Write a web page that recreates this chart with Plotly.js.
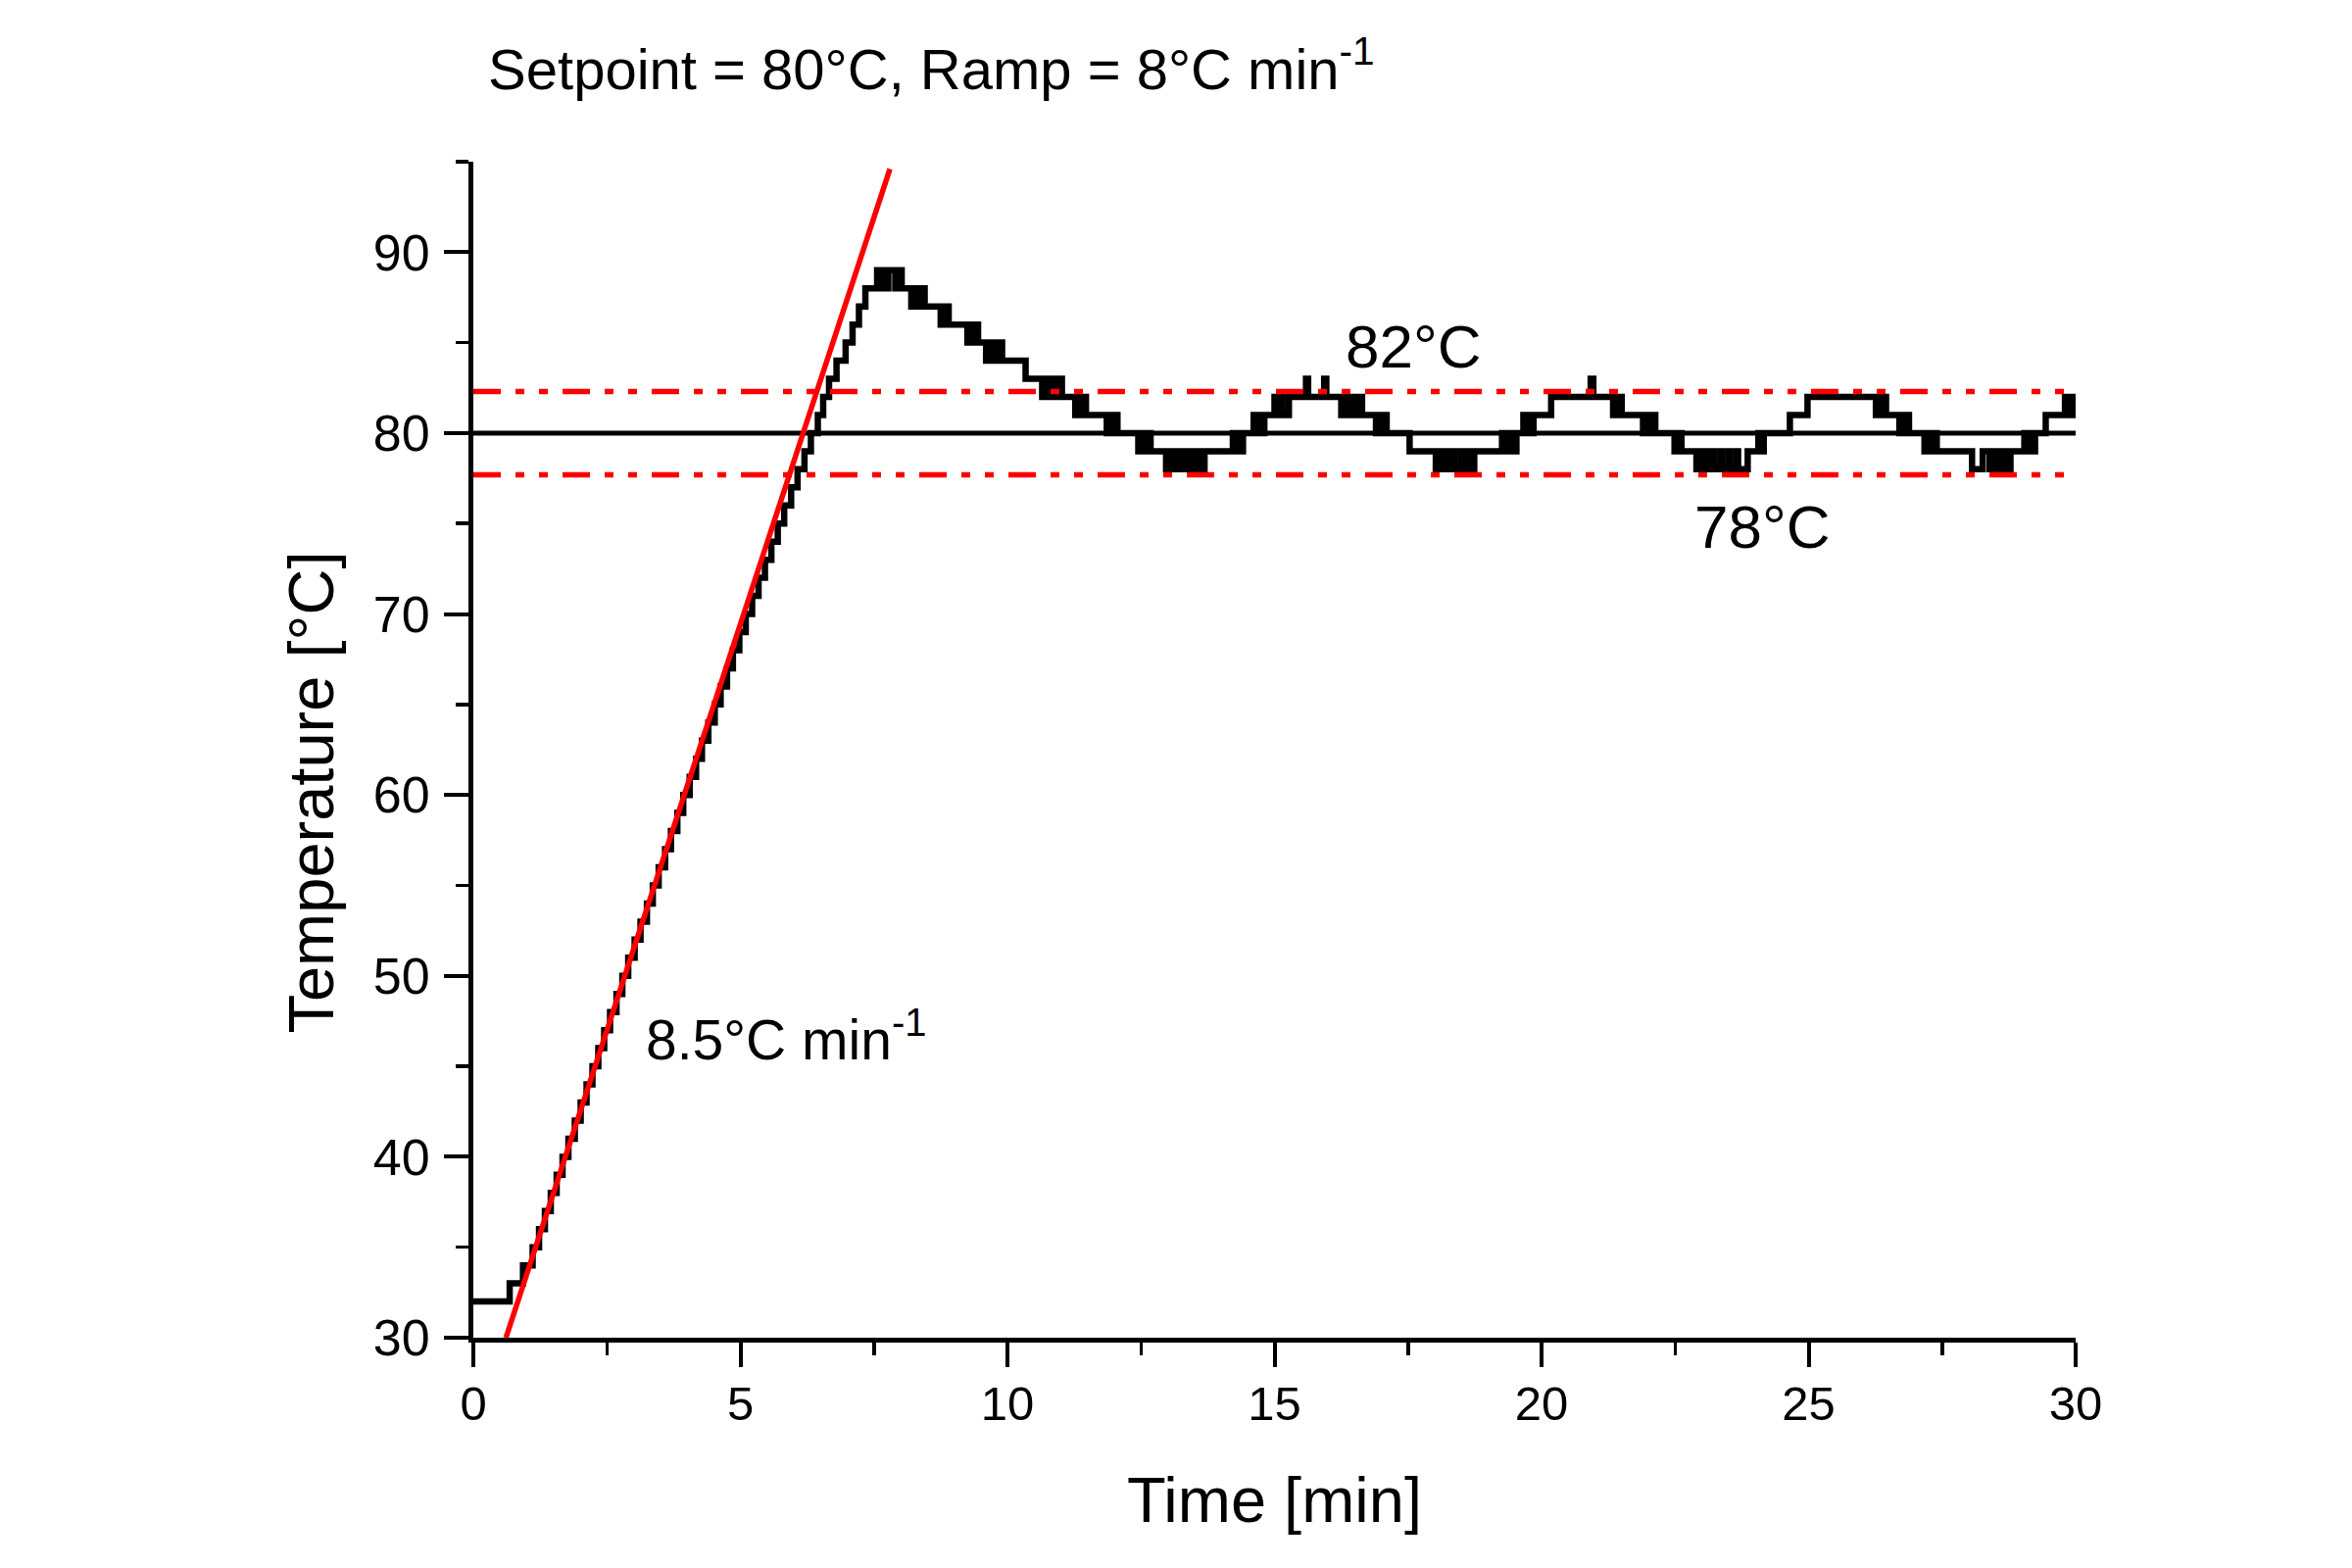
<!DOCTYPE html>
<html>
<head>
<meta charset="utf-8">
<script src="https://cdn.plot.ly/plotly-3.0.1.min.js"></script>
<style>html,body{margin:0;padding:0;background:#fff;}#chart{width:2400px;height:1600px;}</style>
</head>
<body>
<div id="chart"></div>
<script>
// ---- Data ----
// Heat-up ramp (time [min], temperature [°C]); each value holds until the next time
var rampTime = [0, 0.68, 0.93, 1.11, 1.23, 1.34, 1.45, 1.56, 1.67, 1.78,
                1.90, 2.01, 2.12, 2.23, 2.34, 2.45, 2.56, 2.68, 2.79, 2.90,
                3.02, 3.13, 3.25, 3.36, 3.47, 3.59, 3.70, 3.82, 3.93, 4.05,
                4.17, 4.28, 4.40, 4.52, 4.63, 4.75, 4.86, 4.98, 5.10, 5.22,
                5.34, 5.46, 5.58, 5.70, 5.82, 5.95, 6.07, 6.20, 6.32, 6.45,
                6.55, 6.66, 6.80, 6.97, 7.10, 7.22, 7.34, 7.56];
var rampTemp = [32, 33, 34, 35, 36, 37, 38, 39, 40, 41,
                42, 43, 44, 45, 46, 47, 48, 49, 50, 51,
                52, 53, 54, 55, 56, 57, 58, 59, 60, 61,
                62, 63, 64, 65, 66, 67, 68, 69, 70, 71,
                72, 73, 74, 75, 76, 77, 78, 79, 80, 81,
                82, 83, 84, 85, 86, 87, 88, 89];

// Overshoot and decay
var decayTime = [7.62, 7.64, 7.75, 7.77, 7.90, 7.92, 8.02,
                 8.20, 8.23, 8.28, 8.31, 8.38, 8.41, 8.45,
                 8.75, 8.78, 8.82, 8.85, 8.90,
                 9.25, 9.28, 9.33, 9.36, 9.45,
                 9.60, 9.64, 9.70, 9.74, 9.80, 9.84, 9.90,
                 10.34,
                 10.65, 10.70, 10.76, 10.80, 10.90, 10.95, 11.02,
                 11.27, 11.30, 11.35, 11.40, 11.47,
                 11.86, 11.90, 11.95, 12.00, 12.06];
var decayTemp = [88, 89, 88, 89, 88, 89, 88,
                 87, 88, 87, 88, 87, 88, 87,
                 86, 87, 86, 87, 86,
                 85, 86, 85, 86, 85,
                 84, 85, 84, 85, 84, 85, 84,
                 83,
                 82, 83, 82, 83, 82, 83, 82,
                 81, 82, 81, 82, 81,
                 80, 81, 80, 81, 80];

// First oscillation cycle
var cycle1Time = [12.45, 12.50, 12.55, 12.60, 12.68,
                  12.97, 13.05, 13.08, 13.15, 13.18, 13.25, 13.28, 13.35, 13.38, 13.45, 13.48, 13.55, 13.58, 13.69,
                  14.22, 14.26, 14.30, 14.35, 14.41,
                  14.61, 14.65, 14.70, 14.75, 14.81,
                  15.00, 15.05, 15.10, 15.15, 15.27,
                  15.59, 15.63, 15.93, 15.97,
                  16.25, 16.30, 16.40, 16.45, 16.55, 16.60, 16.64,
                  16.90, 16.95, 17.00, 17.05, 17.10,
                  17.53, 18.02];
var cycle1Temp = [79, 80, 79, 80, 79,
                  78, 79, 78, 79, 78, 79, 78, 79, 78, 79, 78, 79, 78, 79,
                  80, 79, 80, 79, 80,
                  81, 80, 81, 80, 81,
                  82, 81, 82, 81, 82,
                  83, 82, 83, 82,
                  81, 82, 81, 82, 81, 82, 81,
                  80, 81, 80, 81, 80,
                  79, 78];

// Second oscillation cycle
var cycle2Time = [18.10, 18.13, 18.22, 18.25, 18.35, 18.38, 18.50, 18.53, 18.62, 18.65, 18.74,
                  19.26, 19.30, 19.36, 19.42, 19.53,
                  19.66, 19.70, 19.78, 19.82, 19.85,
                  20.18,
                  20.92, 20.97,
                  21.34, 21.38, 21.44, 21.47, 21.50,
                  21.90, 21.95, 22.05, 22.08, 22.13,
                  22.49, 22.53, 22.58, 22.60, 22.62,
                  22.90, 22.95, 23.02, 23.10, 23.13, 23.20, 23.23, 23.35, 23.38, 23.50, 23.53, 23.65, 23.68, 23.86,
                  24.06, 24.10, 24.16, 24.65, 24.98];
var cycle2Temp = [79, 78, 79, 78, 79, 78, 79, 78, 79, 78, 79,
                  80, 79, 80, 79, 80,
                  81, 80, 81, 80, 81,
                  82,
                  83, 82,
                  81, 82, 81, 82, 81,
                  80, 81, 80, 81, 80,
                  79, 80, 79, 80, 79,
                  78, 79, 78, 79, 78, 79, 78, 79, 78, 79, 78, 79, 78, 79,
                  80, 79, 80, 81, 82];

// Third oscillation cycle to the end
var cycle3Time = [26.26, 26.30, 26.38, 26.42, 26.45,
                  26.70, 26.74, 26.80, 26.84, 26.88,
                  27.17, 27.21, 27.28, 27.32, 27.40,
                  28.06, 28.26, 28.39, 28.45, 28.48, 28.55, 28.58, 28.66, 28.69, 28.78,
                  29.04, 29.08, 29.15, 29.20, 29.24,
                  29.44,
                  29.80, 29.90, 29.93, 29.97, 30.00];
var cycle3Temp = [81, 82, 81, 82, 81,
                  80, 81, 80, 81, 80,
                  79, 80, 79, 80, 79,
                  78, 79, 78, 79, 78, 79, 78, 79, 78, 79,
                  80, 79, 80, 79, 80,
                  81,
                  82, 81, 82, 81, 81];

// Reference lines
var setpointTime = [0, 30];
var setpointTemp = [80, 80];
var upperLimitTemp = [82.3, 82.3];
var lowerLimitTemp = [77.7, 77.7];
// Linear fit of the ramp
var fitTime = [0.61, 7.8];
var fitTemp = [30, 94.6];

// Texts
var chartTitle = 'Setpoint = 80°C, Ramp = 8°C min<sup>-1</sup>';
var xTitle = 'Time [min]';
var yTitle = 'Temperature [°C]';
var upperLabel = '82°C';
var lowerLabel = '78°C';
var rampLabel = '8.5°C min<sup>-1</sup>';

// ---- Build ----
var measTime = rampTime.concat(decayTime, cycle1Time, cycle2Time, cycle3Time);
var measTemp = rampTemp.concat(decayTemp, cycle1Temp, cycle2Temp, cycle3Temp);

var FONT = 'Liberation Sans, Arial, Helvetica, sans-serif';
var dashDotDot = '28px,15px,9px,15px,9px,15px';

var traces = [
  {x: setpointTime, y: setpointTemp, mode: 'lines', name: 'Setpoint',
   line: {color: '#000', width: 5}, hoverinfo: 'skip'},
  {x: measTime, y: measTemp, mode: 'lines', name: 'Temperature',
   line: {color: '#000', width: 6.5, shape: 'hv'}},
  {x: setpointTime, y: upperLimitTemp, mode: 'lines', name: 'Upper',
   line: {color: '#ff0000', width: 5.5, dash: dashDotDot}, hoverinfo: 'skip'},
  {x: setpointTime, y: lowerLimitTemp, mode: 'lines', name: 'Lower',
   line: {color: '#ff0000', width: 5.5, dash: dashDotDot}, hoverinfo: 'skip'},
  {x: fitTime, y: fitTemp, mode: 'lines', name: 'Fit',
   line: {color: '#ff0000', width: 5.5}}
];

var axisCommon = {
  showgrid: false, zeroline: false, showline: true, linewidth: 5, linecolor: '#000',
  ticks: 'outside', ticklen: 25, tickwidth: 4, tickcolor: '#000',
  automargin: false, fixedrange: true
};

var layout = {
  width: 2400, height: 1600,
  margin: {l: 483, r: 282, t: 165, b: 235, pad: 0},
  paper_bgcolor: '#fff', plot_bgcolor: '#fff',
  showlegend: false,
  font: {family: FONT, color: '#000'},
  title: {text: chartTitle, font: {family: FONT, size: 58, color: '#000'},
          xref: 'container', x: 0.396, xanchor: 'center',
          yref: 'container', y: 0.956, yanchor: 'middle'},
  xaxis: Object.assign({}, axisCommon, {
    range: [0, 30], tick0: 0, dtick: 5, ticklabelstandoff: -5,
    tickfont: {family: FONT, size: 49, color: '#000'},
    minor: {dtick: 2.5, ticks: 'outside', ticklen: 13, tickwidth: 3.5, tickcolor: '#000', showgrid: false},
    title: {text: xTitle, font: {family: FONT, size: 65, color: '#000'}, standoff: 51}
  }),
  yaxis: Object.assign({}, axisCommon, {
    range: [30, 95], tick0: 0, dtick: 10, ticklabelstandoff: 4,
    tickfont: {family: FONT, size: 52, color: '#000'},
    minor: {dtick: 5, ticks: 'outside', ticklen: 13, tickwidth: 3.5, tickcolor: '#000', showgrid: false}
  }),
  annotations: [
    {x: -0.101, y: 0.4636, xref: 'paper', yref: 'paper', text: yTitle, showarrow: false,
     textangle: -90, xanchor: 'center', yanchor: 'middle',
     font: {family: FONT, size: 65, color: '#000'}},
    {x: 17.6, y: 84.8, xref: 'x', yref: 'y', text: upperLabel, showarrow: false,
     xanchor: 'center', yanchor: 'middle', font: {family: FONT, size: 62, color: '#000'}},
    {x: 24.13, y: 74.8, xref: 'x', yref: 'y', text: lowerLabel, showarrow: false,
     xanchor: 'center', yanchor: 'middle', font: {family: FONT, size: 62, color: '#000'}},
    {x: 3.2, y: 46.7, xref: 'x', yref: 'y', text: rampLabel, showarrow: false,
     xanchor: 'left', yanchor: 'middle', font: {family: FONT, size: 57, color: '#000'}}
  ]
};

Plotly.newPlot('chart', traces, layout, {displayModeBar: false, staticPlot: true});
</script>
</body>
</html>
